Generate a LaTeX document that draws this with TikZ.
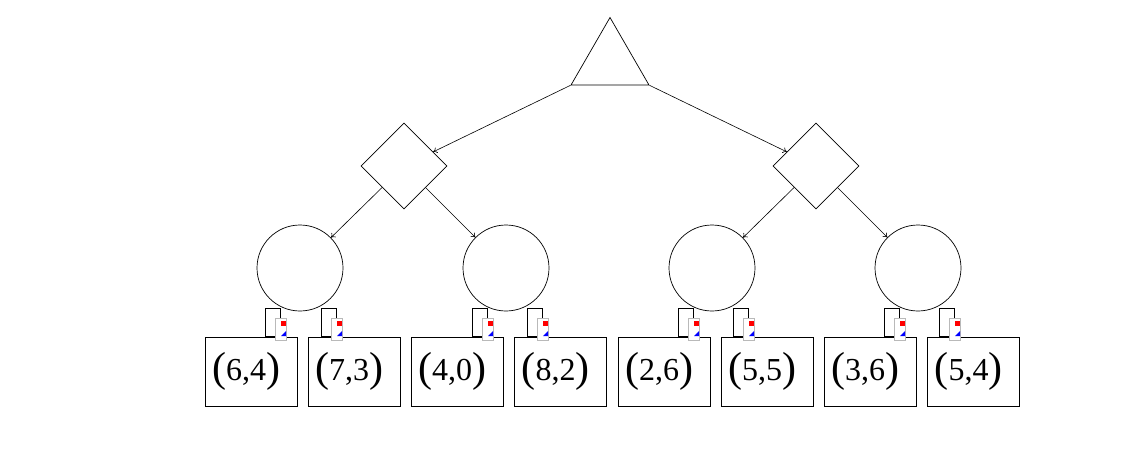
\documentclass[tikz,border=0pt]{standalone}
\usepackage{fontspec}
\setmainfont{Liberation Serif}
\usetikzlibrary{shapes.geometric,arrows.meta}
\tikzset{
  edge/.style={draw, line width=0.6pt, -{To[length=4pt,width=6pt]}},
  tri/.style={regular polygon, regular polygon sides=3, draw, line width=0.7pt, minimum size=90pt, inner sep=0pt},
  dia/.style={diamond, draw, line width=0.7pt, minimum width=86pt, minimum height=86pt, inner sep=0pt},
  circ/.style={circle, draw, line width=0.7pt, minimum size=86pt, inner sep=0pt},
  leaf/.style={rectangle, draw, line width=0.8pt, minimum width=92pt, minimum height=69pt, inner sep=0pt},
  blk/.style={draw, line width=1pt},
  gry/.style={draw=gray!55, line width=0.8pt, fill=white}
}
\newcommand{\leaftext}[2]{\fontsize{32}{36}\selectfont\raisebox{-0.03em}{\fontsize{42}{44}\selectfont(}#1,#2\raisebox{-0.03em}{\fontsize{42}{44}\selectfont)}}
\newcommand{\glitchmark}[1]{%
  \draw[blk] (#1,336) -- (#1,308) -- (#1+15,308) -- (#1+15,336) -- cycle;
  \draw[gry] (#1+10,318) rectangle (#1+21,340);
  \fill[red] (#1+16,321) rectangle (#1+21,326);
  \fill[blue] (#1+21,331) -- (#1+21,336) -- (#1+16,336) -- cycle;
}
\begin{document}
\begin{tikzpicture}[x=1pt,y=-1pt]
\useasboundingbox (0,0) rectangle (1129,455);
\node[tri] (root) at (610,62.5) {};
\node[dia] (d1) at (404,166) {};
\node[dia] (d2) at (816,166) {};
\node[circ] (c1) at (300,268) {};
\node[circ] (c2) at (506,268) {};
\node[circ] (c3) at (712,268) {};
\node[circ] (c4) at (918,268) {};
\draw[edge] (root.corner 2) -- (d1);
\draw[edge] (root.corner 3) -- (d2);
\draw[edge] (d1) -- (c1);
\draw[edge] (d1) -- (c2);
\draw[edge] (d2) -- (c3);
\draw[edge] (d2) -- (c4);
\node[leaf] (l1) at (251,371.5) {};
\node[leaf] (l2) at (354,371.5) {};
\node[leaf] (l3) at (457,371.5) {};
\node[leaf] (l4) at (560.5,371.5) {};
\node[leaf] (l5) at (664,371.5) {};
\node[leaf] (l6) at (767,371.5) {};
\node[leaf] (l7) at (870,371.5) {};
\node[leaf] (l8) at (973.5,371.5) {};
\node (t1) at ([xshift=-5pt]l1) {\leaftext{6}{4}};
\node (t2) at ([xshift=-5pt]l2) {\leaftext{7}{3}};
\node (t3) at ([xshift=-5pt]l3) {\leaftext{4}{0}};
\node (t4) at ([xshift=-5pt]l4) {\leaftext{8}{2}};
\node (t5) at ([xshift=-5pt]l5) {\leaftext{2}{6}};
\node (t6) at ([xshift=-5pt]l6) {\leaftext{5}{5}};
\node (t7) at ([xshift=-5pt]l7) {\leaftext{3}{6}};
\node (t8) at ([xshift=-5pt]l8) {\leaftext{5}{4}};
\glitchmark{265}
\glitchmark{321}
\glitchmark{472}
\glitchmark{527}
\glitchmark{678}
\glitchmark{733}
\glitchmark{884}
\glitchmark{939}
\end{tikzpicture}
\end{document}
